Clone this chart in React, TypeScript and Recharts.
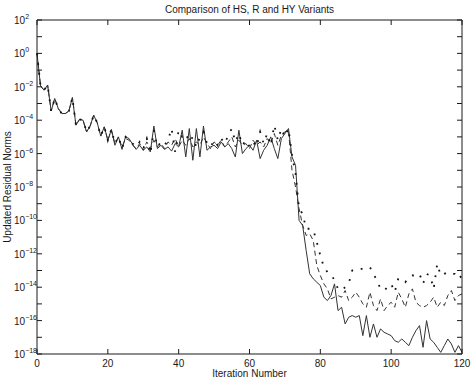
import { LineChart, Line, XAxis, YAxis } from 'recharts'

// iteration index 0..120
const iterations = Array.from({ length: 121 }, (_, i) => i)

// log10 of the residual norms
const hsLog = [
  0, -1.95, -2.2, -1.9, -3.45, -2.7, -3.3, -3.6, -3.6, -3.45,
  -2.65, -4.3, -3.95, -4.0, -4.7, -4.35, -3.7, -4.15, -4.95, -4.4,
  -5.2, -4.55, -5.5, -5.0, -5.75, -5.0, -5.1, -5.45, -5.75, -5.5,
  -5.8, -5.6, -5.9, -4.35, -5.7, -5.5, -5.75, -5.6, -5.85, -5.4,
  -5.6, -4.6, -6.2, -4.5, -6.4, -4.5, -6.2, -4.35, -5.8, -5.6,
  -5.5, -5.7, -5.3, -5.6, -5.4, -5.7, -6.2, -4.6, -6.0, -5.7,
  -5.5, -5.8, -5.2, -6.3, -5.8, -5.5, -5.0, -5.7, -6.3, -5.1,
  -4.8, -4.5, -6.2, -6.7, -10.0, -10.3, -11.8, -13.2, -13.5, -13.7,
  -13.9, -14.6, -14.8, -14.5, -13.8, -15.4, -15.2, -16.2, -15.8, -15.7,
  -15.8, -15.7, -16.9, -15.7, -17.0, -16.2, -17.0, -16.5, -16.7, -16.8,
  -16.9, -17.2, -17.3, -17.1, -17.3, -17.5, -17.0, -16.6, -16.3, -17.6,
  -16.0, -17.1, -17.3, -17.6, -17.9, -17.5, -17.1, -17.4, -17.9, -17.5, -17.9,
]

const rLog = [
  0, -1.95, -2.2, -1.9, -3.45, -2.7, -3.3, -3.6, -3.6, -3.45,
  -2.65, -4.3, -3.95, -4.0, -4.7, -4.35, -3.7, -4.15, -4.95, -4.4,
  -5.2, -4.6, -5.4, -5.0, -5.6, -5.1, -5.2, -5.5, -5.7, -5.4,
  -5.8, -5.3, -5.7, -5.2, -5.6, -5.4, -5.7, -5.3, -5.5, -5.1,
  -5.6, -5.2, -5.5, -5.1, -5.6, -5.3, -5.5, -5.0, -5.4, -5.7,
  -5.3, -5.5, -5.2, -5.6, -5.3, -5.0, -5.6, -5.2, -5.5, -5.4,
  -5.7, -5.2, -5.5, -5.3, -5.6, -5.1, -5.4, -4.8, -5.5, -4.9,
  -4.7, -4.6, -7.0, -8.0, -9.3, -10.3, -10.9, -10.8, -11.2, -12.7,
  -13.3, -13.8, -14.1, -14.7, -14.6, -14.5, -14.6, -14.2, -14.8, -14.6,
  -14.3, -14.6, -15.0, -15.2, -14.3, -15.1, -15.4, -14.7, -15.4, -15.1,
  -14.9, -15.2, -14.3, -14.7, -15.2, -14.4, -14.1, -14.9, -15.1, -15.2,
  -15.1, -14.9, -14.6, -15.2, -14.9, -15.1, -14.5, -14.2, -14.8, -14.5, -14.4,
]

const hyLog = [
  0, -1.95, -2.2, -1.9, -3.45, -2.7, -3.3, -3.6, -3.6, -3.45,
  -2.65, -4.3, -3.95, -4.0, -4.7, -4.35, -3.7, -4.15, -4.95, -4.4,
  -5.2, -4.55, -5.4, -5.0, -5.7, -5.0, -5.2, -5.4, -5.6, -5.3,
  -5.7, -5.1, -6.0, -4.6, -5.6, -5.3, -5.5, -5.2, -4.5, -5.9,
  -4.6, -5.0, -4.8, -5.3, -5.0, -5.6, -5.0, -4.7, -5.4, -5.6,
  -5.2, -5.5, -5.1, -5.4, -4.9, -4.5, -5.3, -4.8, -5.5, -5.2,
  -5.6, -5.3, -5.6, -4.7, -5.4, -4.8, -5.5, -4.3, -5.2, -4.5,
  -5.0, -4.5, -6.1, -7.2, -9.3, -9.6, -10.5, -10.5, -10.55, -11.3,
  -12.1, -12.8, -13.1, -13.2, -13.6, -14.1, -14.2, -14.0, -13.8, -13.0,
  -12.9, -12.9, -12.9, -12.85, -12.8, -13.2, -13.6, -14.1, -14.2, -14.0,
  -13.8, -14.3, -13.5, -13.5, -13.7, -13.4, -13.3, -13.3, -13.2, -13.8,
  -13.2, -13.3, -14.1, -12.6, -13.3, -13.2, -13.1, -13.2, -13.2, -13.5, -13.3,
]

const xTicks = [0, 20, 40, 60, 80, 100, 120]
const yTickExps = [-18, -17, -16, -15, -14, -13, -12, -11, -10, -9, -8, -7, -6, -5, -4, -3, -2, -1, 0, 1, 2]
const yTicks = yTickExps.map((e) => 10 ** e)

const data = iterations.map((x, i) => ({
  x,
  hs: 10 ** hsLog[i],
  r: 10 ** rLog[i],
  hy: 10 ** hyLog[i],
}))

const FONT = '"Liberation Sans", Arial, Helvetica, sans-serif'
const INK = '#1a1a1a'

function expLabel(v: number) {
  const e = Math.round(Math.log10(v))
  return e < 0 ? '\u2212' + -e : String(e)
}

function LeftTick({ x, y, payload }: any) {
  const e = Math.round(Math.log10(payload.value))
  return (
    <g>
      <line x1={x} y1={y} x2={x + 5} y2={y} stroke={INK} />
      {e % 2 === 0 && (
        <text x={x - 23} y={y + 4} fontSize={10} fontFamily={FONT} fill={INK}>
          10
          <tspan dy={-5} fontSize={7}>{expLabel(payload.value)}</tspan>
        </text>
      )}
    </g>
  )
}

function RightTick({ x, y }: any) {
  return <line x1={x - 5} y1={y} x2={x} y2={y} stroke={INK} />
}

function BottomTick({ x, y, payload }: any) {
  return (
    <g>
      <line x1={x} y1={y - 5} x2={x} y2={y} stroke={INK} />
      <text x={x} y={y + 13} textAnchor="middle" fontSize={10} fontFamily={FONT} fill={INK}>
        {payload.value}
      </text>
    </g>
  )
}

function TopTick({ x, y }: any) {
  return <line x1={x} y1={y} x2={x} y2={y + 5} stroke={INK} />
}

export default function App() {
  return (
    <div style={{ position: 'absolute', left: 0, top: 0, width: 474, height: 380, background: '#fff', fontFamily: FONT }}>
      <div style={{ position: 'absolute', left: 37, top: 3, width: 425, textAlign: 'center', fontSize: 10, lineHeight: '14px', color: INK }}>
        Comparison of HS, R and HY Variants
      </div>
      <LineChart width={474} height={380} data={data} margin={{ top: 19, right: 11, bottom: 0, left: 0 }}>
        <XAxis
          xAxisId="b"
          dataKey="x"
          type="number"
          domain={[0, 120]}
          ticks={xTicks}
          interval={0}
          height={26}
          tickSize={0}
          tickMargin={0}
          tickLine={false}
          axisLine={{ stroke: INK }}
          tick={(p: any) => <BottomTick {...p} />}
        />
        <XAxis
          xAxisId="t"
          dataKey="x"
          type="number"
          orientation="top"
          domain={[0, 120]}
          ticks={xTicks}
          interval={0}
          height={1}
          tickSize={0}
          tickMargin={0}
          tickLine={false}
          axisLine={{ stroke: INK }}
          tick={(p: any) => <TopTick {...p} />}
        />
        <YAxis
          yAxisId="l"
          type="number"
          scale="log"
          domain={[1e-18, 1e2]}
          allowDataOverflow
          ticks={yTicks}
          interval={0}
          width={37}
          tickSize={0}
          tickMargin={0}
          tickLine={false}
          axisLine={{ stroke: INK }}
          tick={(p: any) => <LeftTick {...p} />}
        />
        <YAxis
          yAxisId="rt"
          orientation="right"
          type="number"
          scale="log"
          domain={[1e-18, 1e2]}
          allowDataOverflow
          ticks={yTicks}
          interval={0}
          width={1}
          tickSize={0}
          tickMargin={0}
          tickLine={false}
          axisLine={{ stroke: INK }}
          tick={(p: any) => <RightTick {...p} />}
        />
        <Line xAxisId="b" yAxisId="l" type="linear" dataKey="r" stroke="#333" strokeWidth={1} strokeDasharray="5 3.5" dot={false} activeDot={false} isAnimationActive={false} />
        <Line xAxisId="b" yAxisId="l" type="linear" dataKey="hs" stroke="#333" strokeWidth={1} dot={false} activeDot={false} isAnimationActive={false} />
        <Line xAxisId="b" yAxisId="l" type="linear" dataKey="hy" stroke="#111" strokeWidth={1.8} strokeDasharray="1.8 8" dot={false} activeDot={false} isAnimationActive={false} />
        <Line xAxisId="t" yAxisId="rt" type="linear" dataKey="hs" stroke="none" dot={false} activeDot={false} isAnimationActive={false} />
      </LineChart>
      <div style={{ position: 'absolute', left: 37, top: 367, width: 425, textAlign: 'center', fontSize: 10, lineHeight: '14px', color: INK }}>
        Iteration Number
      </div>
      <div
        style={{
          position: 'absolute',
          left: 8,
          top: 187,
          transform: 'translate(-50%, -50%) rotate(-90deg)',
          whiteSpace: 'nowrap',
          fontSize: 10,
          lineHeight: '12px',
          color: INK,
        }}
      >
        Updated Residual Norms
      </div>
    </div>
  )
}
